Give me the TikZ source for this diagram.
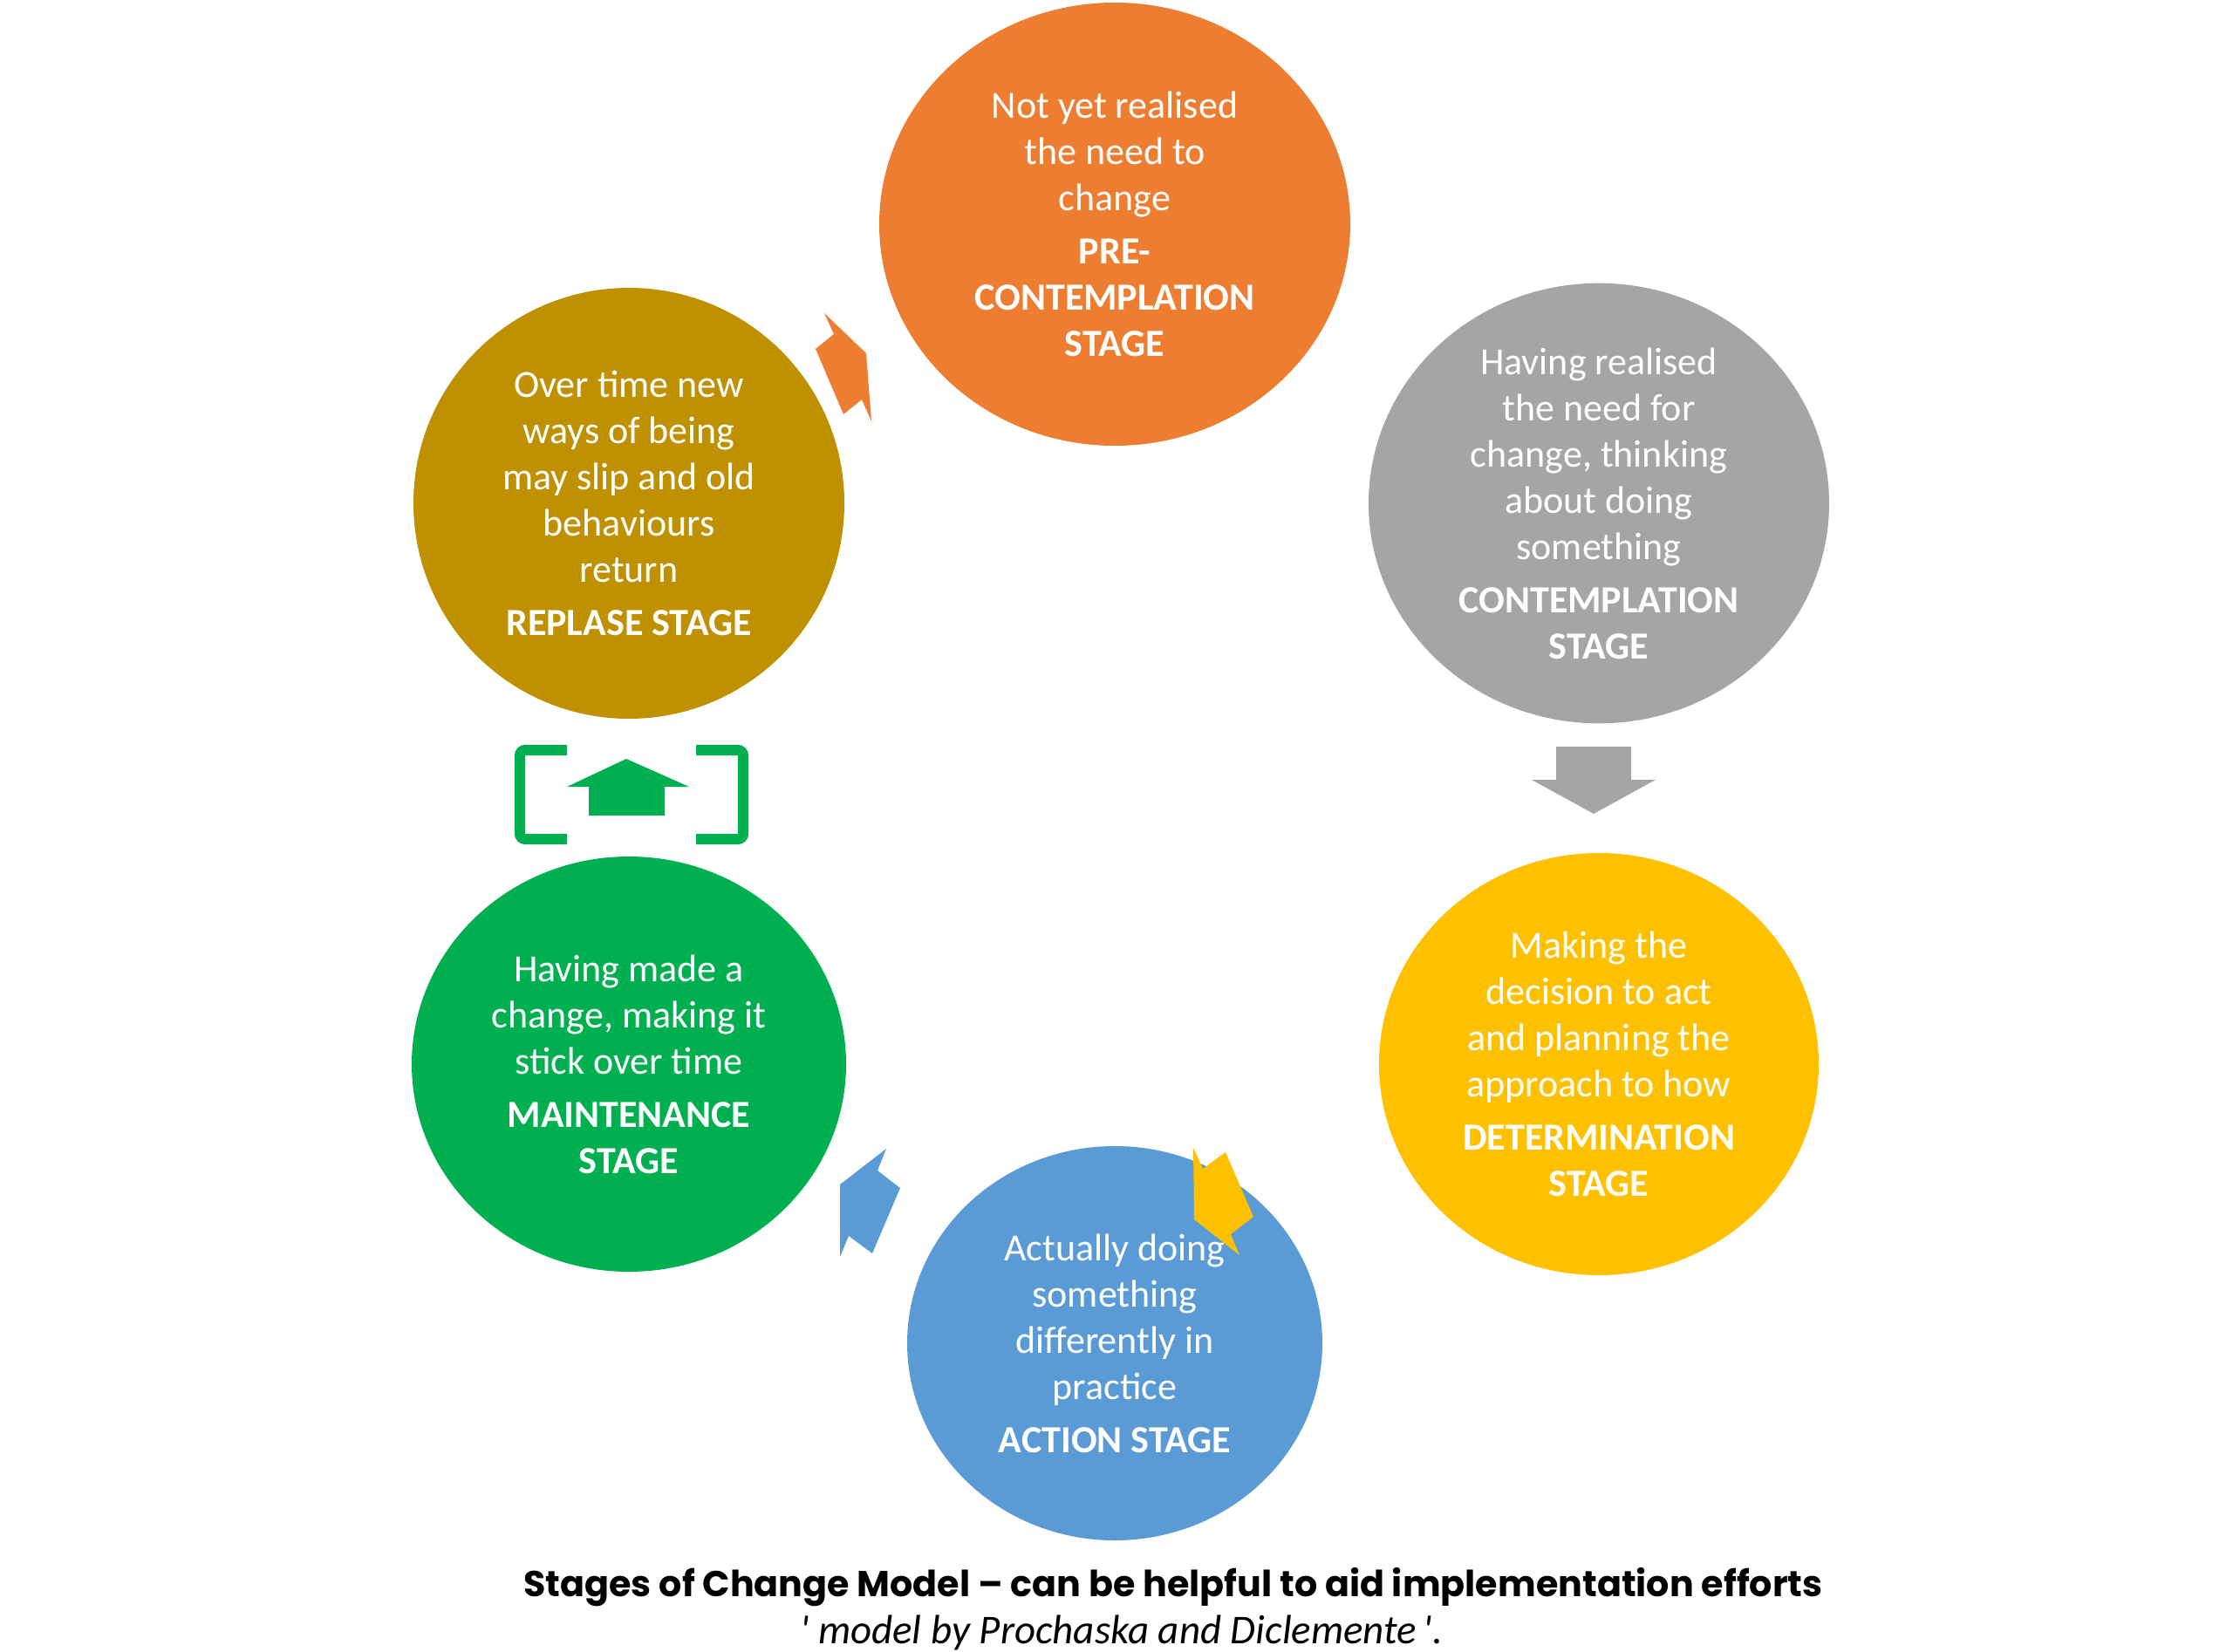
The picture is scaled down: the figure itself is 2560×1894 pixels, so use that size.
\documentclass[tikz,border=0pt]{standalone}
\usepackage{fontspec}
\setmainfont{Carlito}
\newfontfamily\capfont{Poppins}
\usetikzlibrary{shapes.geometric}
\definecolor{cOr}{HTML}{ED7D31}
\definecolor{cGr}{HTML}{A5A5A5}
\definecolor{cYe}{HTML}{FFC000}
\definecolor{cBl}{HTML}{5B9BD5}
\definecolor{cGn}{HTML}{00B050}
\definecolor{cOl}{HTML}{BF9000}
\begin{document}
\begin{tikzpicture}[x=1pt,y=-1pt,
  stage/.style={ellipse,inner sep=0pt,text=white,align=center,
    font=\fontsize{44}{53}\selectfont},
]
\useasboundingbox (0,0) rectangle (2560,1894);
\fill[white] (0,0) rectangle (2560,1894);
\node[stage,fill=cOr,minimum width=540,minimum height=508] (pre) at (1278,257)
  {Not yet realised\\the need to\\change\\[8pt]\textbf{PRE-}\\\textbf{CONTEMPLATION}\\\textbf{STAGE}};
\node[stage,fill=cGr,minimum width=528,minimum height=492] (con) at (1833,577)
  {Having realised\\the need for\\change, thinking\\about doing\\something\\[8pt]\textbf{CONTEMPLATION}\\\textbf{STAGE}};
\node[stage,fill=cYe,minimum width=504,minimum height=484] (det) at (1833,1220)
  {Making the\\decision to act\\and planning the\\approach to how\\[8pt]\textbf{DETERMINATION}\\\textbf{STAGE}};
\node[stage,fill=cBl,minimum width=476,minimum height=452] (act) at (1278,1540)
  {Actually doing\\something\\differently in\\practice\\[8pt]\textbf{ACTION STAGE}};
\node[stage,fill=cGn,minimum width=498,minimum height=476] (mai) at (721,1220)
  {Having made a\\change, making it\\stick over time\\[8pt]\textbf{MAINTENANCE}\\\textbf{STAGE}};
\node[stage,fill=cOl,minimum width=494,minimum height=494] (rel) at (721,577)
  {Over time new\\ways of being\\may slip and old\\behaviours\\return\\[8pt]\textbf{REPLASE STAGE}};
% block arrows
\fill[cOr] (999,483) -- (988,458) -- (967,475) -- (935,400) -- (956,383) -- (945,359) -- (993,405) -- cycle;
\fill[cOr] (1421,355) -- (1410,379) -- (1391,364) -- (1359,439) -- (1378,454) -- (1368,478) -- (1414,431) -- cycle;
\fill[cGr] (1784,856) -- (1870,856) -- (1870,894) -- (1898,894) -- (1827,933) -- (1756,894) -- (1784,894) -- cycle;
\fill[cYe] (1368,1316) -- (1379,1340) -- (1405,1321) -- (1437,1395) -- (1411,1415) -- (1421,1439) -- (1369,1398) -- cycle;
\fill[cBl] (1016,1317) -- (1006,1342) -- (1032,1362) -- (1000,1437) -- (973,1417) -- (963,1441) -- (963,1358) -- cycle;
% green bracketed arrow
\draw[cGn,line width=12,rounded corners=6] (650,860) -- (596,860) -- (596,962) -- (650,962);
\draw[cGn,line width=12,rounded corners=6] (798,860) -- (852,860) -- (852,962) -- (798,962);
\fill[cGn] (718,870) -- (790,902) -- (762,902) -- (762,935) -- (675,935) -- (675,902) -- (650,902) -- cycle;
% caption
\node[anchor=base,inner sep=0] (cap) at (1345,1830)
  {\resizebox{1489pt}{!}{\capfont\fontsize{40}{48}\selectfont\bfseries Stages of Change Model – can be helpful to aid implementation efforts}};
\node[anchor=base west,inner sep=0] (src) at (917,1884)
  {\resizebox{737pt}{!}{\fontsize{40}{48}\selectfont\itshape\textquotesingle\ model by Prochaska and Diclemente\,\textquotesingle.}};
\end{tikzpicture}
\end{document}
